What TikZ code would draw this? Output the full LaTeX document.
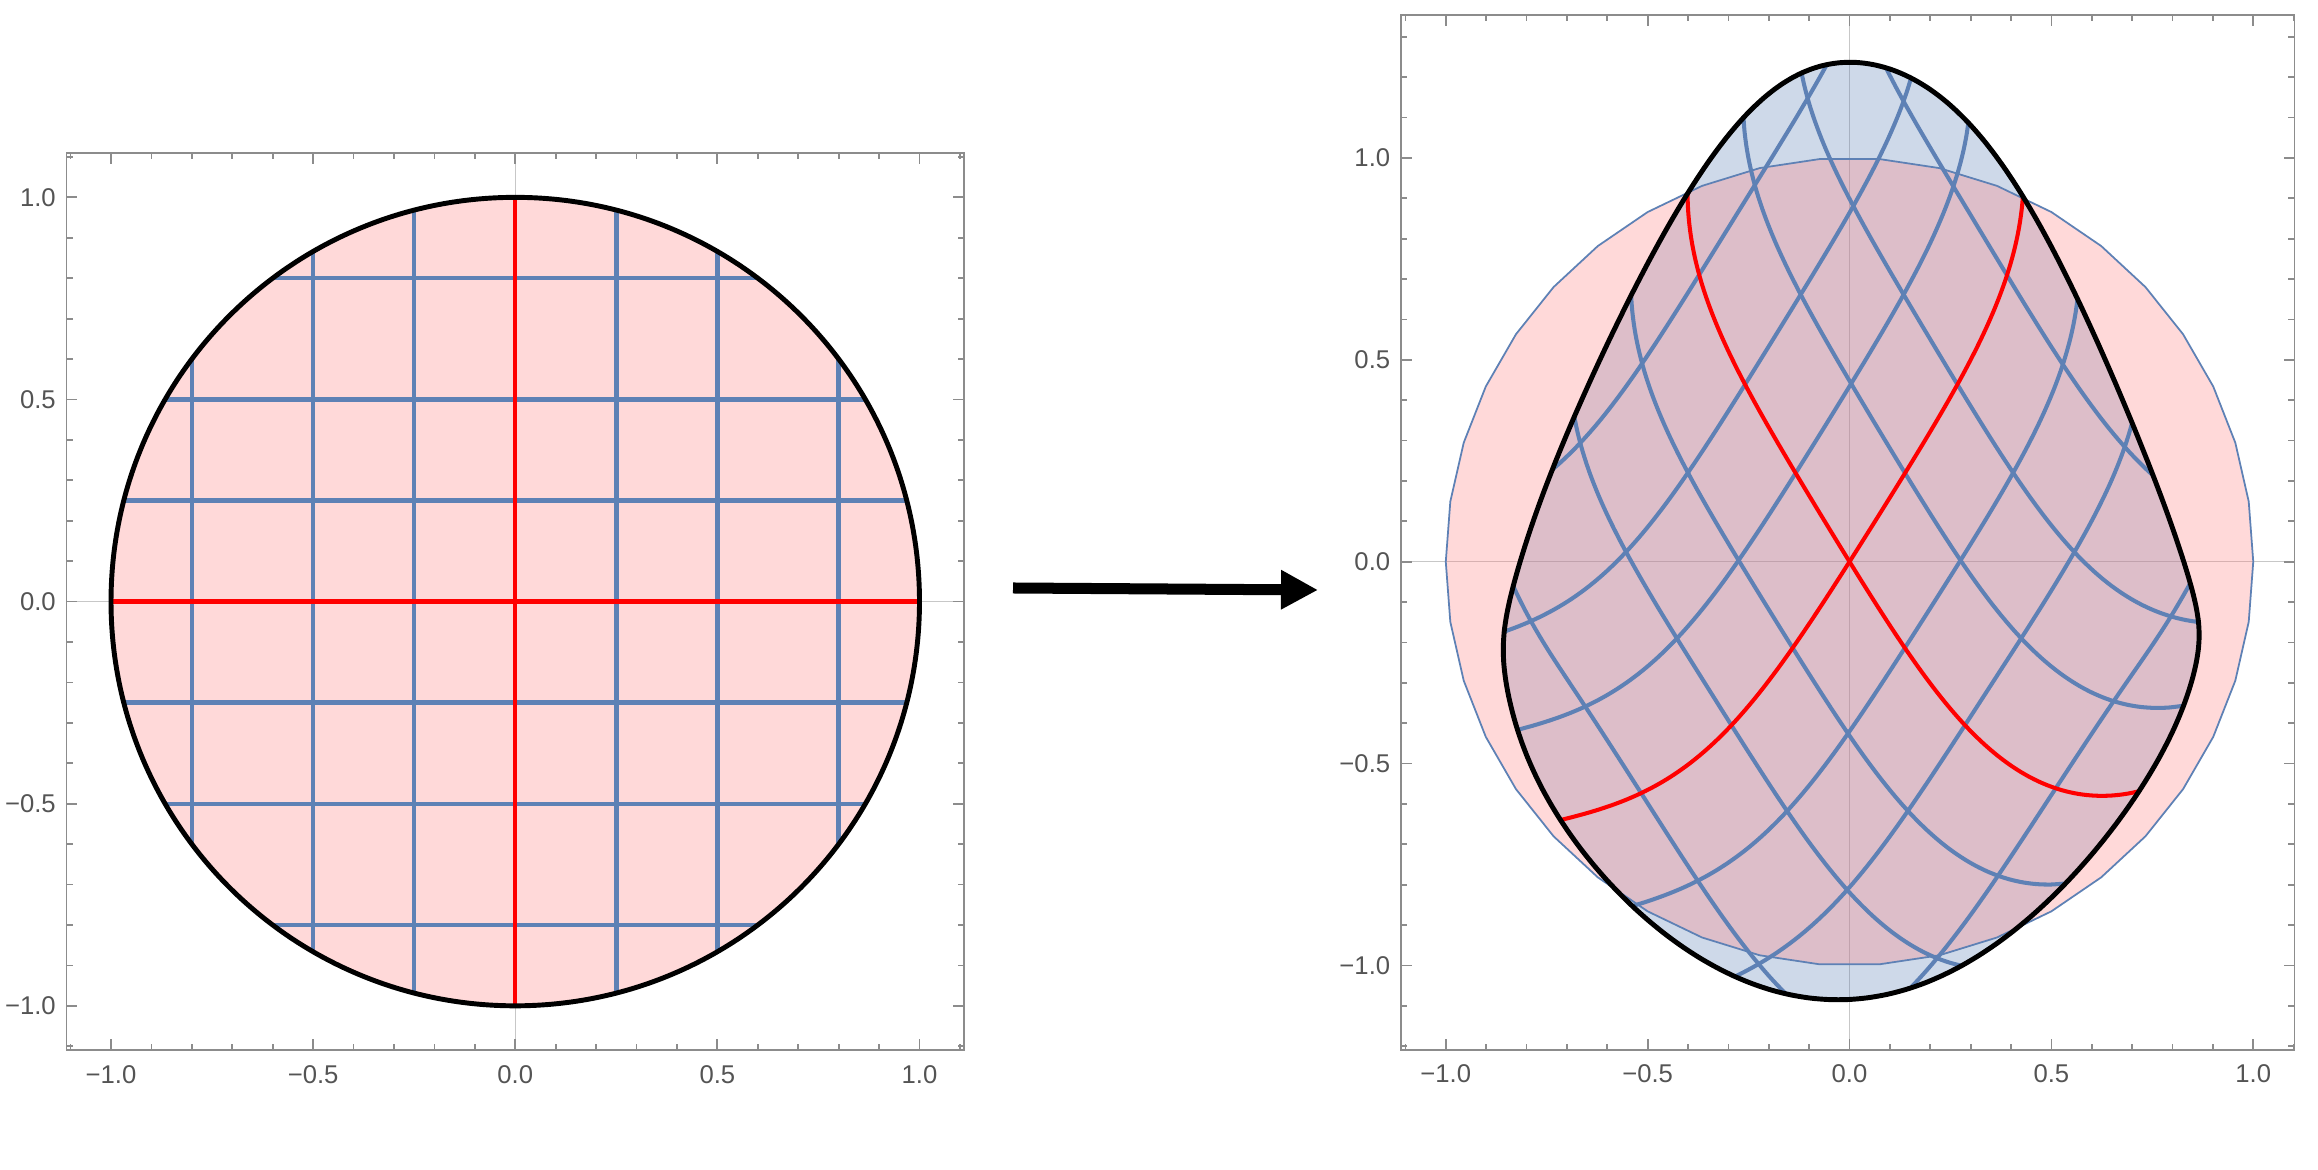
\documentclass[tikz,border=0pt]{standalone}
\usepackage{fontspec}
\setmainfont{Liberation Sans}
\usetikzlibrary{arrows.meta}
\definecolor{mblue}{rgb}{0.368,0.507,0.710}
\definecolor{mpink}{rgb}{1,0.5,0.5}
\definecolor{mred}{rgb}{1,0,0}
\definecolor{framegray}{gray}{0.55}
\definecolor{labelgray}{gray}{0.33}
\definecolor{axisgray}{gray}{0.78}
\tikzset{
  framebox/.style={draw=framegray, line width=0.5pt},
  tickmark/.style={draw=framegray, line width=0.5pt},
  axisline/.style={draw=axisgray, line width=0.4pt},
  ticklabel/.style={text=labelgray, inner sep=0pt, font=\fontsize{7.3}{8.5}\selectfont},
  gridline/.style={draw=mblue, line width=1.15pt},
  redline/.style={draw=mred, line width=1.15pt},
  rimline/.style={draw=black, line width=1.4pt, line join=round},
  diskfill/.style={fill=mpink, fill opacity=0.3},
  regionfill/.style={fill=mblue, fill opacity=0.3},
}
\begin{document}
\begin{tikzpicture}[x=0.01cm, y=0.01cm,
  declare function={
    fys(\rA,\pA)=(1.235*\rA-0.12*\rA^3)*cos(\pA)+0.04*\rA^2+0.074*\rA^4+(0.02*\rA^2-0.02*\rA^4)*cos(2*(\pA))+0.0455*\rA^3*cos(3*(\pA))-0.038*\rA^4*cos(4*(\pA))+\rA^8*(-0.0095*sin(\pA)+0.0196*sin(2*(\pA))-0.0083*sin(3*(\pA))+0.0049*sin(5*(\pA)));
    fxs(\rA,\pA)=-(0.775*\rA+0.022*\rA^3)*sin(\pA)+(0.02*\rA^2+0.13*\rA^4)*sin(2*(\pA))-0.0025*\rA^3*sin(3*(\pA))-0.003*\rA^4*sin(4*(\pA))-0.015*\rA^6*sin(\pA)*(1/(1+((cos(\pA)+0.29)/0.25)^2))^2;
    fxt(\rA,\pA)=fxs(\rA,\pA)+0.009*fys(\rA,\pA)+0.006*\rA^4;
    mx(\xA,\yA)=fxt(sqrt((\xA)*(\xA)+(\yA)*(\yA)),atan2(\yA,\xA)-45);
    my(\xA,\yA)=fys(sqrt((\xA)*(\xA)+(\yA)*(\yA)),atan2(\yA,\xA)-45);
  }]
\useasboundingbox (0,0) rectangle (2318,1170);

% ---------------- left plot ----------------
\begin{scope}[shift={(515.25,568.4)}, x=4.04cm, y=4.04cm]
  \draw[axisline] (-1.11,0) -- (1.11,0);
  \draw[axisline] (0,-1.11) -- (0,1.11);
  \fill[diskfill] (0,0) circle (1);
  \foreach \c in {-0.8,-0.5,-0.25,0.25,0.5,0.8}{
    \pgfmathsetmacro\hh{sqrt(1-(\c)*(\c))}
    \draw[gridline, line width=1.25pt] (\c,-\hh) -- (\c,\hh);
    \draw[gridline, line width=1.25pt] (-\hh,\c) -- (\hh,\c);
  }
  \draw[redline, line width=1.25pt] (-1,0) -- (1,0);
  \draw[redline, line width=1.25pt] (0,-1) -- (0,1);
  \draw[rimline] (0,0) circle (1);
  \draw[framebox] (-1.11,-1.11) rectangle (1.11,1.11);
  \foreach \i in {-11,...,11}{
    \pgfmathsetmacro\tl{mod(\i,5)==0 ? 0.027 : 0.015}
    \draw[tickmark] (\i/10,-1.11) -- ++(0,\tl);
    \draw[tickmark] (\i/10,1.11) -- ++(0,-\tl);
    \draw[tickmark] (-1.11,\i/10) -- ++(\tl,0);
    \draw[tickmark] (1.11,\i/10) -- ++(-\tl,0);
  }
  \foreach \v/\t [count=\n] in {-1/−1.0,-0.5/−0.5,0/0.0,0.5/0.5,1/1.0}{
    \node[ticklabel, anchor=north] (lxl\n) at (\v,-1.145) {\t};
    \node[ticklabel, anchor=east] (lyl\n) at (-1.135,\v) {\t};
  }
\end{scope}

% ---------------- arrow ----------------
\coordinate (arrowtail) at (1013,582);
\coordinate (arrowtip) at (1318,580);
\draw[line width=0.11cm, -{Triangle[length=0.37cm,width=0.37cm]}] (arrowtail) -- (arrowtip);

% ---------------- right plot ----------------
\begin{scope}[shift={(1849.5,608.3)}, x=4.035cm, y=4.035cm]
  \draw[axisline] (-1.111,0) -- (1.102,0);
  \draw[axisline] (0,-1.21) -- (0,1.355);
  \fill[regionfill] plot[domain=0:357.5, samples=144, variable=\t, smooth cycle]
     ({fxt(1,\t-45)},{fys(1,\t-45)});
  \filldraw[diskfill, draw=mblue, line width=0.5pt] (0:1) \foreach \a in {1,...,41}{ -- ({\a*360/42}:1)} -- cycle;
  \foreach \c in {-0.8,-0.5,-0.25,0.25,0.5,0.8}{
    \pgfmathsetmacro\hh{sqrt(1-(\c)*(\c))}
    \draw[gridline] plot[domain=-\hh:\hh, samples=60, variable=\t, smooth] ({mx(\c,\t)},{my(\c,\t)});
    \draw[gridline] plot[domain=-\hh:\hh, samples=60, variable=\t, smooth] ({mx(\t,\c)},{my(\t,\c)});
  }
  \draw[redline] plot[domain=-1:1, samples=100, variable=\t, smooth] ({mx(\t,0)},{my(\t,0)});
  \draw[redline] plot[domain=-1:1, samples=100, variable=\t, smooth] ({mx(0,\t)},{my(0,\t)});
  \draw[rimline] plot[domain=0:357.5, samples=144, variable=\t, smooth cycle]
     ({fxt(1,\t-45)},{fys(1,\t-45)});
  \draw[framebox] (-1.111,-1.21) rectangle (1.102,1.355);
  \foreach \i in {-11,...,11}{
    \pgfmathsetmacro\tl{mod(\i,5)==0 ? 0.027 : 0.015}
    \draw[tickmark] (\i/10,-1.21) -- ++(0,\tl);
    \draw[tickmark] (\i/10,1.355) -- ++(0,-\tl);
  }
  \foreach \i in {-12,...,13}{
    \pgfmathsetmacro\tl{mod(\i,5)==0 ? 0.027 : 0.015}
    \draw[tickmark] (-1.111,\i/10) -- ++(\tl,0);
    \draw[tickmark] (1.102,\i/10) -- ++(-\tl,0);
  }
  \foreach \v/\t [count=\n] in {-1/−1.0,-0.5/−0.5,0/0.0,0.5/0.5,1/1.0}{
    \node[ticklabel, anchor=north] (rxl\n) at (\v,-1.245) {\t};
    \node[ticklabel, anchor=east] (ryl\n) at (-1.136,\v) {\t};
  }
\end{scope}
\end{tikzpicture}
\end{document}
